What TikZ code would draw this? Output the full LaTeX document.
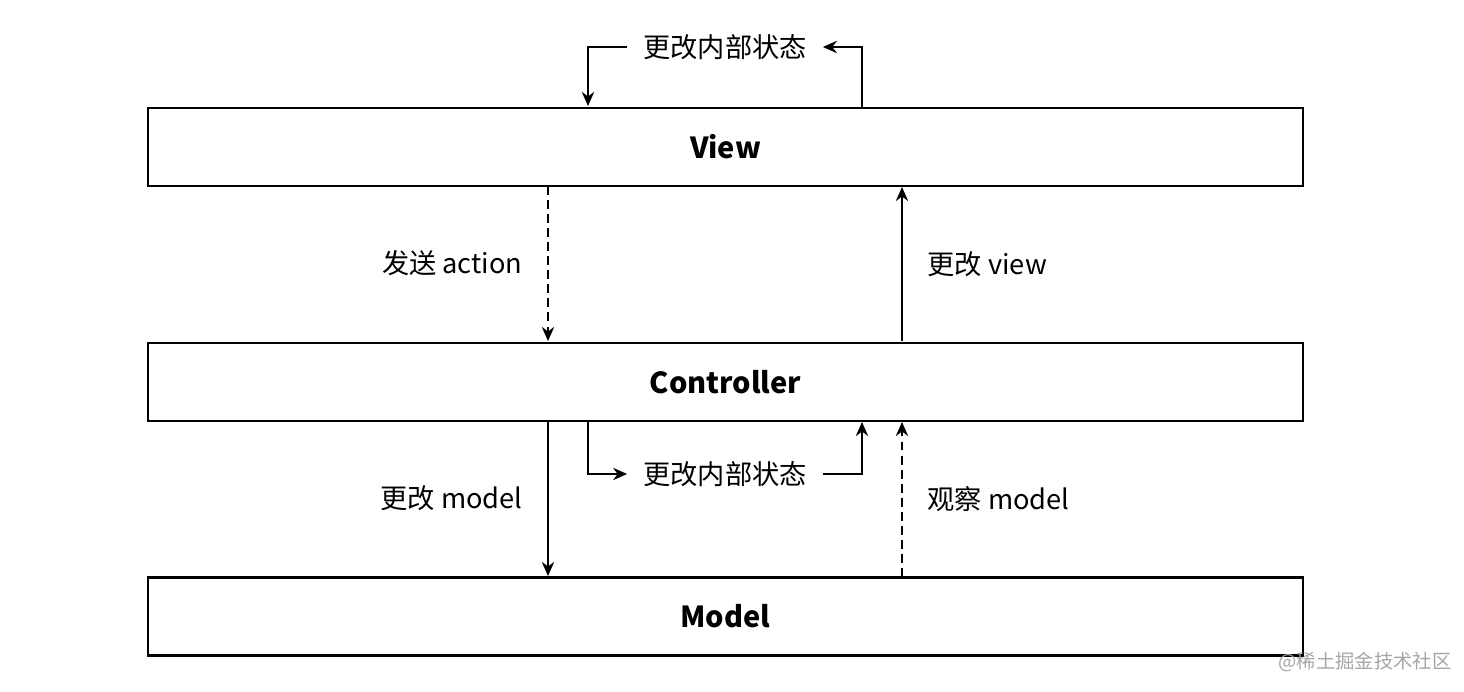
\documentclass[tikz,border=0pt]{standalone}
\usepackage{fontspec}
\setmainfont{Noto Sans CJK SC}
\usetikzlibrary{arrows.meta,positioning}
\tikzset{
  layer/.style={draw, line width=1.2pt, minimum width=23.1cm, minimum height=1.56cm, font=\fontsize{16.5}{18}\selectfont\bfseries},
  lbl/.style={font=\fontsize{15.5}{18}\selectfont, inner sep=2pt},
  state/.style={lbl, inner xsep=9pt},
  link/.style={-{Stealth[length=8pt,width=7pt]}, line width=1.1pt},
  flow/.style={link, dashed, dash pattern=on 5pt off 3pt}
}
\begin{document}
\begin{tikzpicture}[x=0.02cm,y=-0.02cm]
  \useasboundingbox (0,0) rectangle (1464,692);
  % layers
  \node[layer] (view) at (725.5,147) {View};
  \node[layer] (ctrl) at (725.5,382) {Controller};
  \node[layer] (model) at (725.5,616.5) {Model};

  % view <-> controller
  \coordinate (a1) at (548,186);
  \coordinate (a2) at (548,341);
  \draw[flow] (a1) -- (a2) node[midway, left=12pt, lbl] {发送 action};
  \coordinate (b1) at (902,341);
  \coordinate (b2) at (902,187);
  \draw[link] (b1) -- (b2) node[midway, right=12pt, lbl] {更改 view};

  % view internal state
  \node[state] (vstate) at (725,47) {更改内部状态};
  \coordinate (v1) at (862,108);
  \coordinate (v2) at (588,106);
  \draw[link] (v1) |- (vstate.east);
  \draw[link] (vstate.west) -| (v2);

  % controller <-> model
  \coordinate (c1) at (548,421);
  \coordinate (c2) at (548,576);
  \draw[link] (c1) -- (c2) node[midway, left=12pt, lbl] {更改 model};
  \coordinate (d1) at (902,577);
  \coordinate (d2) at (902,422);
  \draw[flow] (d1) -- (d2) node[midway, right=12pt, lbl] {观察 model};

  % controller internal state
  \node[state] (cstate) at (725,474) {更改内部状态};
  \coordinate (k1) at (588,421);
  \coordinate (k2) at (862,422);
  \draw[link] (k1) |- (cstate.west);
  \draw[link] (cstate.east) -| (k2);

  % watermark
  \node[font=\fontsize{11}{13}\selectfont, text=gray!70] (mark) at (1365,662) {@稀土掘金技术社区};
\end{tikzpicture}
\end{document}
